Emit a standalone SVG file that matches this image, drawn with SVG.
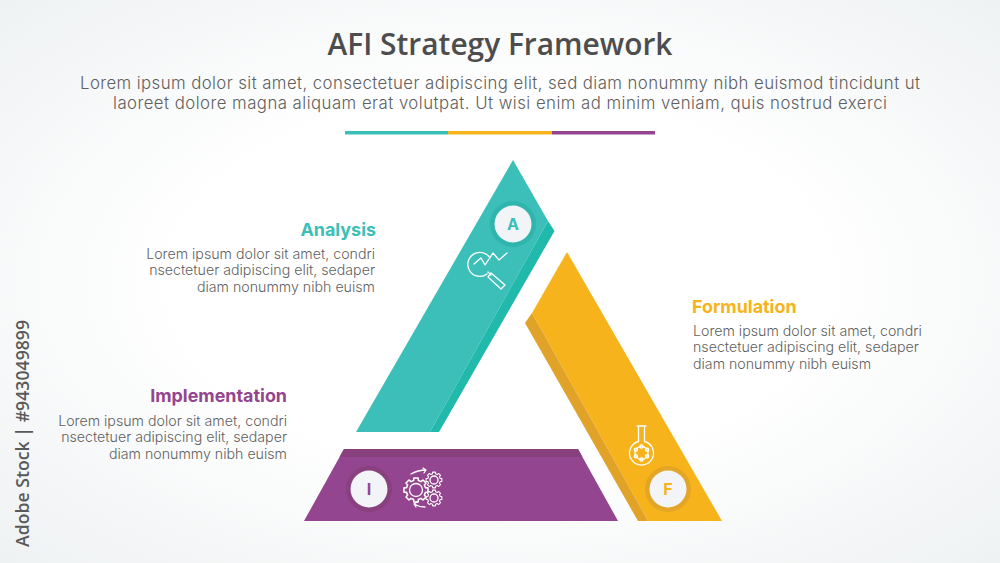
<svg xmlns="http://www.w3.org/2000/svg" xmlns:xlink="http://www.w3.org/1999/xlink" width="1000" height="563" viewBox="0 0 1000 563">
<style>
text{font-family:"Inter","Liberation Sans",sans-serif}
.title{font-family:"Open Sans","Liberation Sans",sans-serif;font-size:29.900px;font-weight:600;fill:#4d4d4d;text-anchor:middle}
.sub{font-size:16.800px;font-weight:300;fill:#5f5f5f}
.h{font-size:17.900px;font-weight:700}
.b{font-size:14.200px;font-weight:300;fill:#5f5f5f}
.r{text-anchor:end}
.disc{fill:#f2f4f7}
.letter{font-size:16px;font-weight:700;text-anchor:middle}
.ic{fill:none;stroke:#fff;stroke-width:1.3;stroke-linecap:round;stroke-linejoin:round}
.ic2{fill:none;stroke:#fff;stroke-width:1.3;vector-effect:non-scaling-stroke;stroke-linejoin:round}
</style>
<defs>
<radialGradient id="bg" cx="50%" cy="50%" r="72%"><stop offset="0.45" stop-color="#ffffff"/><stop offset="1" stop-color="#eef1f2"/></radialGradient>
<polygon id="gear" points="7.76,-1.94 9.85,-1.74 9.85,1.74 7.76,1.94 6.86,4.12 8.19,5.74 5.74,8.19 4.12,6.86 1.94,7.76 1.74,9.85 -1.74,9.85 -1.94,7.76 -4.12,6.86 -5.74,8.19 -8.19,5.74 -6.86,4.12 -7.76,1.94 -9.85,1.74 -9.85,-1.74 -7.76,-1.94 -6.86,-4.12 -8.19,-5.74 -5.74,-8.19 -4.12,-6.86 -1.94,-7.76 -1.74,-9.85 1.74,-9.85 1.94,-7.76 4.12,-6.86 5.74,-8.19 8.19,-5.74 6.86,-4.12"/>
</defs>
<rect width="1000" height="563" fill="url(#bg)"/>
<g id="header">
<text class="title" x="500" y="55">AFI Strategy Framework</text>
<text class="sub" x="80" y="89" textLength="840">Lorem ipsum dolor sit amet, consectetuer adipiscing elit, sed diam nonummy nibh euismod tincidunt ut</text>
<text class="sub" x="113" y="109" textLength="774">laoreet dolore magna aliquam erat volutpat. Ut wisi enim ad minim veniam, quis nostrud exerci</text>
<rect x="345" y="131" width="103" height="3.500" fill="#3bbfb8"/>
<rect x="448" y="131" width="104" height="3.500" fill="#f7b31b"/>
<rect x="552" y="131" width="103" height="3.500" fill="#94458f"/>
</g>
<g id="node-analysis">
<polygon points="513,160 548,221 430,432 356,432" fill="#3bbfb8"/>
<polygon points="548,221 554.500,231 439,432 430,432" fill="#20b9ab"/>
<circle cx="513" cy="224" r="23" fill="#2fb5ad"/>
<circle class="disc" cx="513" cy="224" r="18.500"/>
<text class="letter" x="513" y="229.500" fill="#3bbfb8">A</text>
<g class="ic">
<path d="M487 274 A12 12 0 1 1 490 258"/>
<path d="M474 264 L481 258 L485 265 L493 253 L499 260 L507 253"/>
<path d="M488 272 L491 275"/>
<path d="M491 273 L505 285 L501 289 L488 277 Z"/>
</g>
<text class="h r" x="376" y="236" fill="#3bbfb8">Analysis</text>
<text class="b r" x="375" y="259">Lorem ipsum dolor sit amet, condri</text>
<text class="b r" x="375" y="275">nsectetuer adipiscing elit, sedaper</text>
<text class="b r" x="375" y="292">diam nonummy nibh euism</text>
</g>
<g id="node-formulation">
<polygon points="567,252 722,521 648,521 532,313" fill="#f7b31b"/>
<polygon points="532,313 525,323 638,521 648,521" fill="#e0a227"/>
<circle cx="668" cy="489" r="23" fill="#e3a526"/>
<circle class="disc" cx="668" cy="489" r="18.500"/>
<text class="letter" x="668" y="495" fill="#f7b31b">F</text>
<g class="ic">
<path d="M637 426 H646 M638.500 426 V441.500 A12 12 0 1 0 644.500 441.500 V426"/>
<circle cx="641.500" cy="453" r="6.500"/>
<circle cx="641.500" cy="446.500" r="1.600"/><circle cx="647.100" cy="449.800" r="1.600"/><circle cx="647.100" cy="456.200" r="1.600"/>
<circle cx="641.500" cy="459.500" r="1.600"/><circle cx="635.900" cy="456.200" r="1.600"/><circle cx="635.900" cy="449.800" r="1.600"/>
</g>
<text class="h" x="692" y="313" fill="#f7b31b">Formulation</text>
<text class="b" x="693" y="336">Lorem ipsum dolor sit amet, condri</text>
<text class="b" x="693" y="352">nsectetuer adipiscing elit, sedaper</text>
<text class="b" x="693" y="369">diam nonummy nibh euism</text>
</g>
<g id="node-implementation">
<polygon points="344,449 578,449 618,521 304,521" fill="#94458f"/>
<polygon points="344,449 578,449 582.500,457 339.500,457" fill="#88407f"/>
<circle cx="369" cy="489" r="23" fill="#88407f"/>
<circle class="disc" cx="369" cy="489" r="18.500"/>
<text class="letter" x="369" y="495" fill="#94458f">I</text>
<use xlink:href="#gear" href="#gear" class="ic2" transform="translate(416,490) scale(1.220)"/>
<use xlink:href="#gear" href="#gear" class="ic2" transform="translate(434,480) scale(.8)"/>
<use xlink:href="#gear" href="#gear" class="ic2" transform="translate(434,498) scale(.8)"/>
<g class="ic">
<circle cx="416" cy="490" r="6.500"/><circle cx="434" cy="480" r="4"/><circle cx="434" cy="498" r="4"/>
<path d="M411 474 Q418 470 426 470 M423 468 L426 470 L424 473"/>
<path d="M425 507 Q419 507 414 504 M417 502 L414 504 L416 507"/>
</g>
<text class="h r" x="287" y="402" fill="#94458f">Implementation</text>
<text class="b r" x="287" y="426">Lorem ipsum dolor sit amet, condri</text>
<text class="b r" x="287" y="442">nsectetuer adipiscing elit, sedaper</text>
<text class="b r" x="287" y="459">diam nonummy nibh euism</text>
</g>
<text id="stock-id" transform="translate(29,547) rotate(-90)" font-size="17.700" font-weight="600" fill="#5a5a5a" style="font-family:'Open Sans','Liberation Sans',sans-serif">Adobe Stock | #943049899</text>
</svg>
